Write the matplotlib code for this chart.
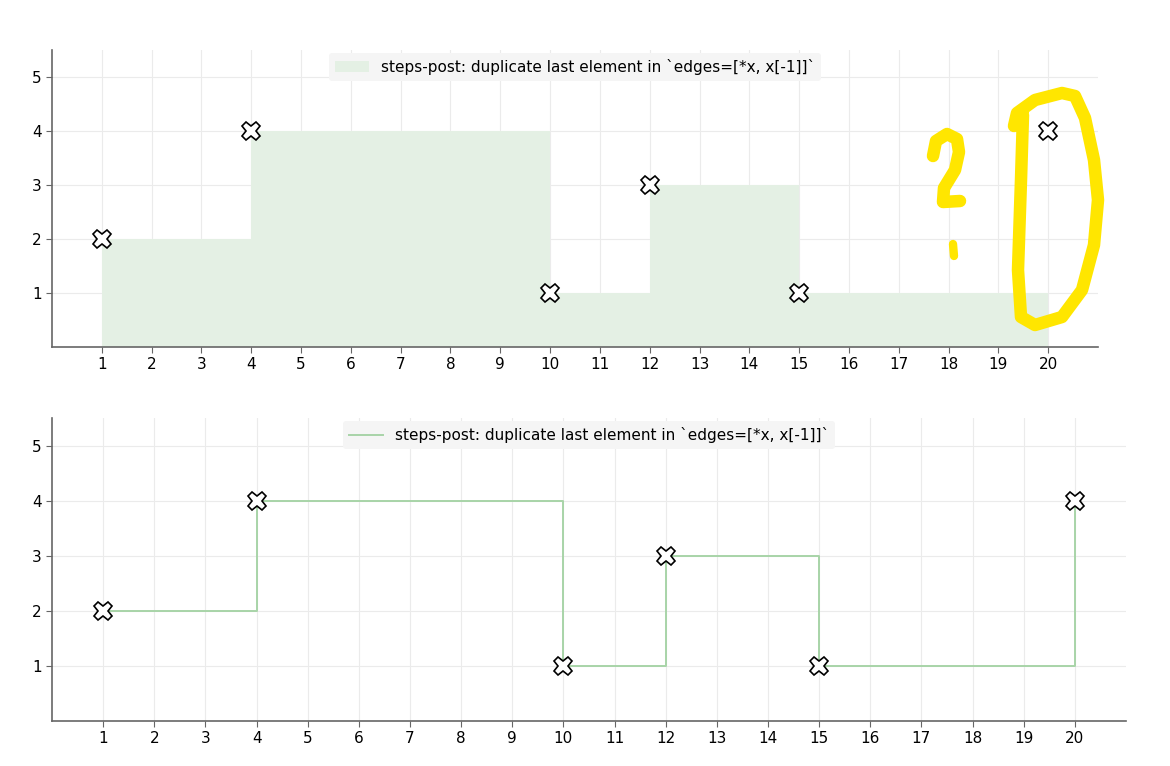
import numpy as np
import matplotlib.pyplot as plt

plt.rcParams['font.family'] = ['DejaVu Sans']

# --- Data ---
x = [1, 4, 10, 12, 15, 20]
y = [2, 4, 1, 3, 1, 4]
LABEL = "steps-post: duplicate last element in `edges=[*x, x[-1]]`"

FILL_COLOR = '#e4f0e4'
LINE_COLOR = '#a8d4a8'
GRID_COLOR = '#ebebeb'
SPINE_COLOR = '#666666'
YELLOW = '#ffe600'


def style_axes(ax):
    ax.set_xlim(0, 21)
    ax.set_ylim(0, 5.5)
    ax.set_xticks(range(1, 21))
    ax.set_yticks(range(1, 6))
    ax.grid(True, color=GRID_COLOR, linewidth=0.8)
    ax.set_axisbelow(True)
    for side in ['top', 'right']:
        ax.spines[side].set_visible(False)
    for side in ['left', 'bottom']:
        ax.spines[side].set_color(SPINE_COLOR)
        ax.spines[side].set_linewidth(1.2)
    ax.tick_params(colors=SPINE_COLOR, labelcolor='black', labelsize=11, length=4)


def add_legend(ax):
    leg = ax.legend(loc='upper center', frameon=True, fontsize=11,
                    handlelength=2.2, borderaxespad=0.2)
    leg.get_frame().set_facecolor('#f5f5f5')
    leg.get_frame().set_edgecolor('none')
    leg.get_frame().set_alpha(1)


W, H = 1170, 766
fig = plt.figure(figsize=(W / 100, H / 100), dpi=100)


def px_axes(l, t, r, b):
    return fig.add_axes([l / W, 1 - b / H, (r - l) / W, (b - t) / H])


def scribble(pts, lw):
    xs = [p[0] / W for p in pts]
    ys = [1 - p[1] / H for p in pts]
    fig.add_artist(plt.Line2D(xs, ys, transform=fig.transFigure, color=YELLOW,
                              linewidth=lw, solid_capstyle='round',
                              solid_joinstyle='round', zorder=10))


ax1 = px_axes(52, 50, 1098, 347)
ax2 = px_axes(52, 418, 1126, 721)

# --- top: filled stairs ---
edges = [*x, x[-1]]
ax1.stairs(y, edges, fill=True, color=FILL_COLOR, label=LABEL)
ax1.plot(x, y, 'X', markersize=13, markerfacecolor='white',
         markeredgecolor='black', markeredgewidth=1.2, linestyle='none', zorder=20)
style_axes(ax1)
add_legend(ax1)

# --- bottom: step line ---
ax2.step(x, y, where='post', color=LINE_COLOR, linewidth=1.4, label=LABEL)
ax2.plot(x, y, 'X', markersize=13, markerfacecolor='white',
         markeredgecolor='black', markeredgewidth=1.2, linestyle='none')
style_axes(ax2)
add_legend(ax2)

# hand-drawn yellow note (pixel positions)
scribble([(933, 156), (936, 141), (947, 134), (957, 139), (959, 152),
          (955, 170), (944, 188), (943, 202), (960, 201)], 9)
scribble([(953, 244), (954, 256)], 6)
scribble([(1014, 126), (1017, 113), (1035, 100), (1062, 93), (1075, 96),
          (1085, 118), (1094, 160), (1098, 200), (1094, 245), (1082, 290),
          (1062, 317), (1035, 325), (1021, 317), (1018, 270), (1021, 180),
          (1023, 115)], 9)

fig.savefig('out.png', dpi=100)
